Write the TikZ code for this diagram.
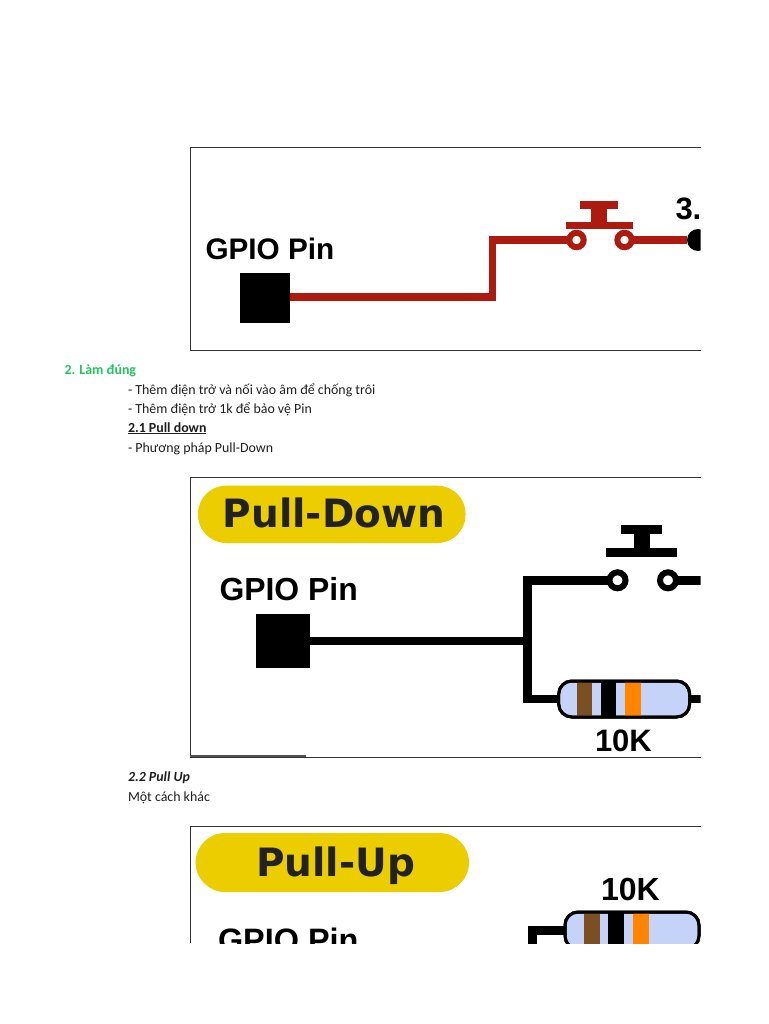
\documentclass[tikz,border=0pt]{standalone}
\usepackage{fontspec}
\setmainfont{Carlito}
\newfontfamily\diagfont{Liberation Sans}
\newfontfamily\titlefont{DejaVu Sans}
\definecolor{wirered}{HTML}{AD1A10}
\definecolor{pillyellow}{HTML}{EBCD00}
\definecolor{bodyblue}{HTML}{C5D3F8}
\definecolor{bandbrown}{HTML}{7B4F22}
\definecolor{bandorange}{HTML}{FF8500}
\definecolor{framegray}{HTML}{333333}
\definecolor{headgreen}{HTML}{22C45E}
\definecolor{inktext}{HTML}{222222}
\tikzset{
  every node/.style={inner sep=0pt,outer sep=0pt},
  frameline/.style={draw=framegray,line width=1pt},
  doctext/.style={anchor=base west,font=\fontsize{13.9}{16}\selectfont,text=black!88},
  gpiolabel/.style={anchor=base west,text=black,font=\diagfont\bfseries\fontsize{#1}{#1}\selectfont},
  pinsquare/.style={fill=black,minimum width=#1,minimum height=#1,anchor=center},
  ring/.style={circle,draw=#1,fill=white,line width=6pt,minimum size=14.4pt,outer sep=3pt},
  redwire/.style={draw=wirered,line width=7.5pt,miter limit=10},
  blackwire/.style={draw=black,line width=8.4pt},
  pill/.style={fill=pillyellow,rounded corners=28pt},
  titletext/.style={anchor=base,font=\titlefont\bfseries\fontsize{39}{39}\selectfont,text=inktext},
  restbody/.style={fill=bodyblue,draw=black,line width=3pt,rounded corners=13pt},
}
\begin{document}
\begin{tikzpicture}[x=1pt,y=-1pt]
\useasboundingbox[fill=white] (0,0) rectangle (768,1024);

% --- first picture
\draw[frameline] (700.5,147.5) -- (190.5,147.5) -- (190.5,350) -- (700.5,350);
\begin{scope}
\clip (190,147) rectangle (700.5,350.5);
\node[gpiolabel=29.7] (gpioA) at (205.5,259) {GPIO Pin};
\node[pinsquare=50pt] (sqA) at (265,297.5) {};
\node[ring=wirered] (swA1) at (576.5,240) {};
\node[ring=wirered] (swA2) at (624.5,240) {};
\node[circle,fill=black,minimum size=22pt] (vccA) at (698,240) {};
\coordinate (kneeA1) at (492.5,297);
\coordinate (kneeA2) at (492.5,240);
\draw[redwire,shorten >=-2pt] (sqA.east |- kneeA1) -- (kneeA1) -- (kneeA2) -- (swA1.west);
\draw[redwire,shorten <=-2pt] (swA2.east) -- (vccA.west);
\fill[wirered] (565.5,222) rectangle (632.5,229.5);
\fill[wirered] (591,208) rectangle (607,222);
\fill[wirered] (580,201) rectangle (618,209);
\node[gpiolabel=31,text=black] (v33) at (675.5,220) {3.};
\end{scope}

% --- text block 1
\node[doctext,font=\bfseries\fontsize{13.9}{16}\selectfont,text=headgreen] (h2) at (64.5,374) {2. Làm đúng};
\node[doctext] (l1) at (128,394) {- Thêm điện trở và nối vào âm để chống trôi};
\node[doctext] (l2) at (128,413.5) {- Thêm điện trở 1k để bảo vệ Pin};
\node[doctext,font=\bfseries\fontsize{13.9}{16}\selectfont] (h21) at (128,432) {\underline{2.1 Pull down}};
\node[doctext] (l3) at (128,452) {- Phương pháp Pull-Down};

% --- second picture
\draw[frameline] (700.5,477.5) -- (190.5,477.5) -- (190.5,757) -- (700.5,757);
\fill[framegray!85] (190,755) rectangle (306,757);
\begin{scope}
\clip (190,477) rectangle (700.5,757.5);
\fill[pill] (198,485.7) rectangle (465.5,543);
\node[titletext] (pd) at (334,527) {Pull-Down};
\node[gpiolabel=31.9] (gpioB) at (219.5,600.7) {GPIO Pin};
\node[pinsquare=53.5pt] (sqB) at (283.2,641) {};
\node[ring=black,line width=6pt,minimum size=16pt,outer sep=3pt] (swB1) at (617.5,580.3) {};
\node[ring=black,line width=6pt,minimum size=16pt,outer sep=3pt] (swB2) at (668,580.3) {};
\coordinate (jB) at (527.5,641);
\coordinate (jBt) at (527.5,580.3);
\coordinate (jBb) at (527.5,699);
\coordinate (endB1) at (701,580.3);
\coordinate (endB2) at (701,699);
\node[minimum width=131pt,minimum height=36pt,anchor=center] (rB) at (624.2,699) {};
\draw[blackwire] (sqB.east |- jB) -- (jB);
\draw[blackwire,shorten <=-2pt] (swB1.west) -- (jBt) -- (jBb) -- (rB.west);
\draw[blackwire,shorten <=-2pt] (swB2.east) -- (endB1);
\draw[blackwire] (rB.east) -- (endB2);
\fill (606,548) rectangle (677,556.7);
\fill (634,533) rectangle (650,548);
\fill (621,525) rectangle (662,533.7);
\begin{scope}
\path[restbody] (rB.south west) rectangle (rB.north east);
\clip[rounded corners=13pt] (rB.south west) rectangle (rB.north east);
\fill[bandbrown] (576.5,680) rectangle (592.4,718);
\fill[black] (601.4,680) rectangle (616,718);
\fill[bandorange] (625,680) rectangle (640.7,718);
\end{scope}
\draw[draw=black,line width=3pt,rounded corners=13pt] (rB.south west) rectangle (rB.north east);
\node[gpiolabel=31] (tenB) at (595,751.7) {10K};
\end{scope}

% --- text block 2
\node[doctext,font=\bfseries\itshape\fontsize{13.9}{16}\selectfont] (h22) at (128,781.5) {2.2 Pull Up};
\node[doctext] (l4) at (128,801) {Một cách khác};

% --- third picture (cut off by the page)
\draw[frameline] (700.5,826) -- (190.5,826) -- (190.5,943);
\begin{scope}
\clip (190,825) rectangle (700.5,943);
\fill[pill,rounded corners=29.5pt] (195.6,833) rectangle (469,892);
\node[titletext] (pu) at (335.5,876) {Pull-Up};
\node[gpiolabel=32] (tenC) at (601,900) {10K};
\node[gpiolabel=32.4] (gpioC) at (218,951) {GPIO Pin};
\node[minimum width=134pt,minimum height=37pt,anchor=center] (rC) at (632,930.5) {};
\coordinate (jC) at (532.5,930.5);
\coordinate (jCb) at (532.5,950);
\draw[blackwire] (rC.west) -- (jC) -- (jCb);
\path[restbody] (rC.south west) rectangle (rC.north east);
\begin{scope}
\clip[rounded corners=13pt] (rC.south west) rectangle (rC.north east);
\fill[bandbrown] (583.5,910) rectangle (599.5,950);
\fill[black] (608,910) rectangle (623.6,950);
\fill[bandorange] (633,910) rectangle (649,950);
\end{scope}
\draw[draw=black,line width=3pt,rounded corners=13pt] (rC.south west) rectangle (rC.north east);
\end{scope}
\end{tikzpicture}
\end{document}
